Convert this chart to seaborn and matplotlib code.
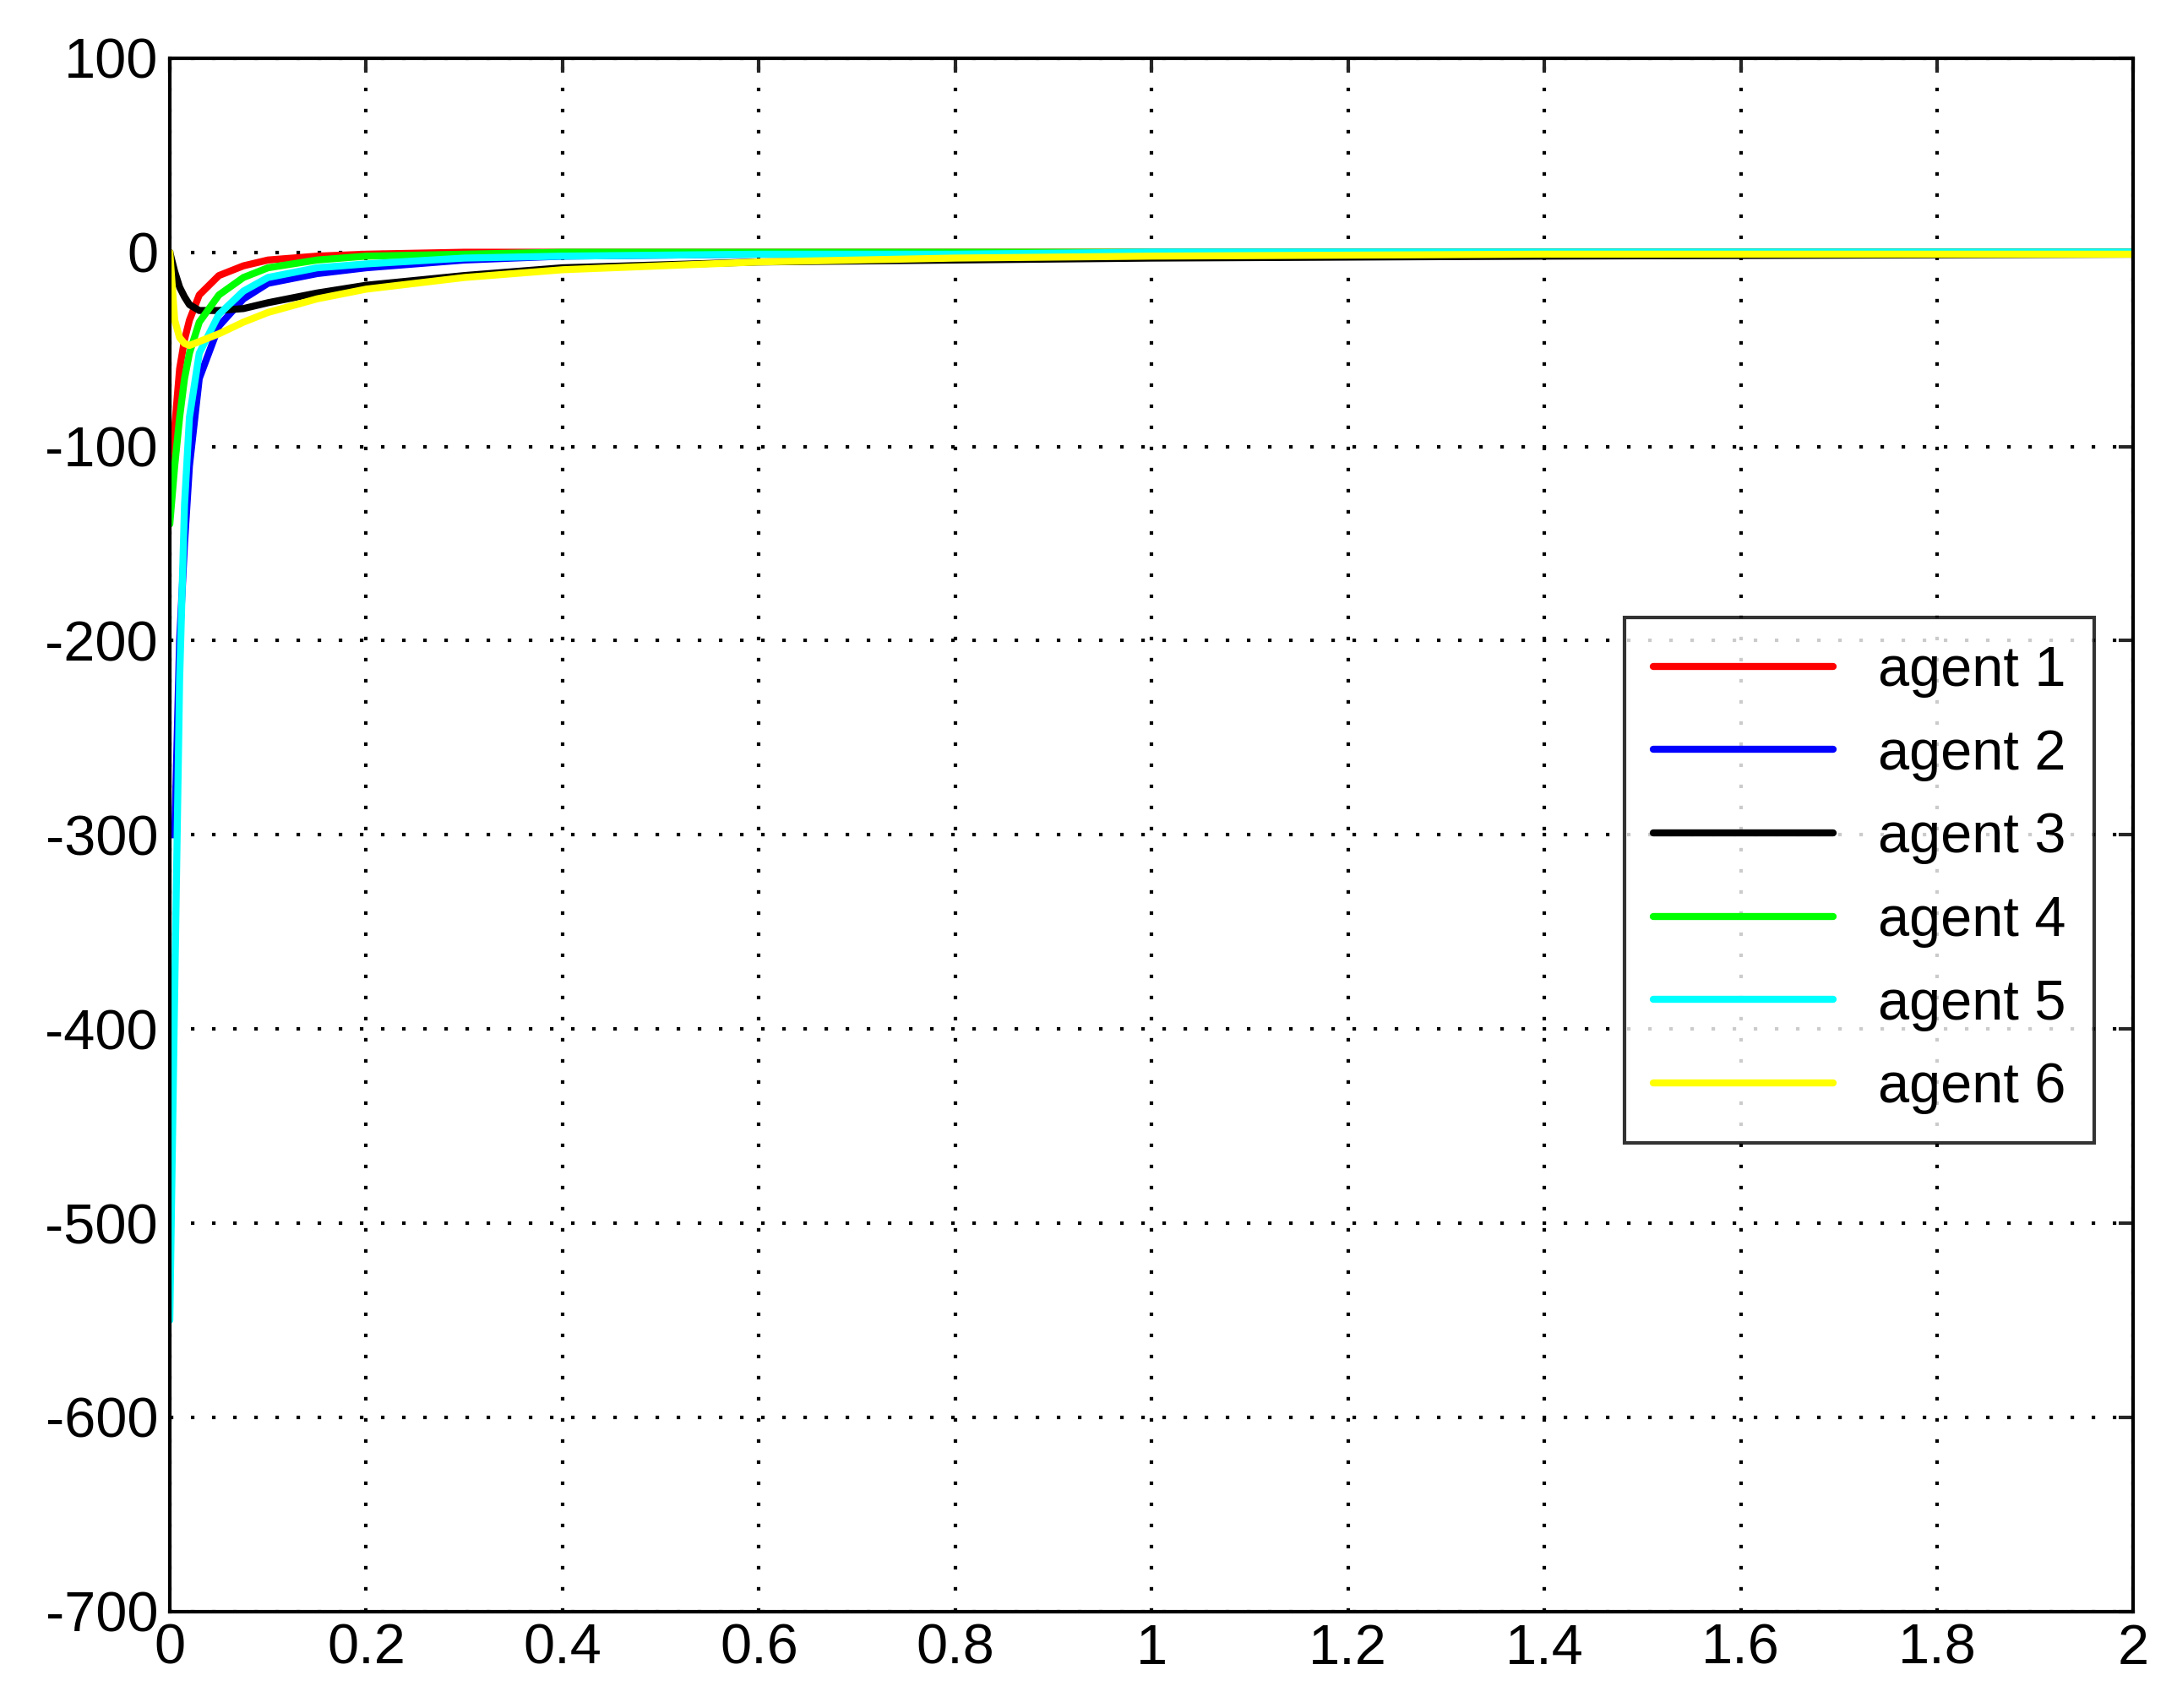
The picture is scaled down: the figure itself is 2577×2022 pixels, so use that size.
import matplotlib
matplotlib.use("Agg")
import matplotlib.pyplot as plt
import seaborn as sns
import pandas as pd

t = [0, 0.005, 0.01, 0.015, 0.02, 0.03, 0.05, 0.075, 0.1, 0.15, 0.2, 0.3, 0.4, 0.6, 0.8, 1.0, 1.4, 2.0]
agent1 = [-120, -90, -60, -45, -35, -22, -12, -7, -4, -2, -1, 0, 0, 0, 0, 0, 0, 0]
agent2 = [-300, -300, -200, -150, -110, -65, -38, -24, -16, -11, -8, -4, -2, -1, -1, 0, 0, 0]
agent3 = [0, -10, -18, -23, -27, -30, -30, -29, -26, -21, -17, -12, -8, -5, -4, -3, -2, -1]
agent4 = [-140, -110, -85, -65, -52, -36, -22, -13, -8, -4, -2, -1, 0, 0, 0, 0, 0, 0]
agent5 = [-550, -380, -220, -130, -85, -52, -32, -20, -13, -8, -6, -3, -2, -1, -1, 0, 0, 0]
agent6 = [0, -35, -44, -47, -48, -46, -42, -36, -31, -24, -19, -13, -9, -5, -3, -2, -1, -1]
names = ["agent 1", "agent 2", "agent 3", "agent 4", "agent 5", "agent 6"]
colors = ["#ff0000", "#0000ff", "#000000", "#00ff00", "#00ffff", "#ffff00"]
xticks = [0, 0.2, 0.4, 0.6, 0.8, 1, 1.2, 1.4, 1.6, 1.8, 2]
yticks = [100, 0, -100, -200, -300, -400, -500, -600, -700]

rows = []
for n, vals in zip(names, [agent1, agent2, agent3, agent4, agent5, agent6]):
    for x, y in zip(t, vals):
        rows.append({"t": x, "v": y, "agent": n})
df = pd.DataFrame(rows)

sns.set_style("white")
plt.rcParams['font.family'] = ['Liberation Sans', 'DejaVu Sans']
plt.rcParams['axes.unicode_minus'] = False
fig = plt.figure(figsize=(25.77, 20.22), dpi=100)
ax = fig.add_axes([0.078, 0.0565, 0.902, 0.9095])
sns.lineplot(data=df, x="t", y="v", hue="agent", palette=colors, linewidth=6,
             ax=ax, legend=True)
ax.set_xlim(0, 2)
ax.set_ylim(-700, 100)
ax.set_xticks(xticks)
ax.set_xticklabels([f"{v:g}" for v in xticks])
ax.set_yticks(yticks)
ax.set_xlabel("")
ax.set_ylabel("")
ax.grid(True, color="black", linestyle=(0, (1, 5)), linewidth=3)
for s in ax.spines.values():
    s.set_color("black")
    s.set_linewidth(3)
ax.tick_params(labelsize=48, labelcolor="black", direction="in", length=12, width=3,
               top=True, right=True, pad=10)
leg = ax.legend(loc="upper left", bbox_to_anchor=(0.741, 0.64), fontsize=48, frameon=True,
                fancybox=False, edgecolor="black", handlelength=3.2, labelspacing=0.55,
                borderpad=0.5, borderaxespad=0)
leg.get_frame().set_linewidth(3)
for txt in leg.get_texts():
    txt.set_color("black")
for l in leg.get_lines():
    l.set_linewidth(6)
fig.savefig("out.png", dpi=100, facecolor="white")
